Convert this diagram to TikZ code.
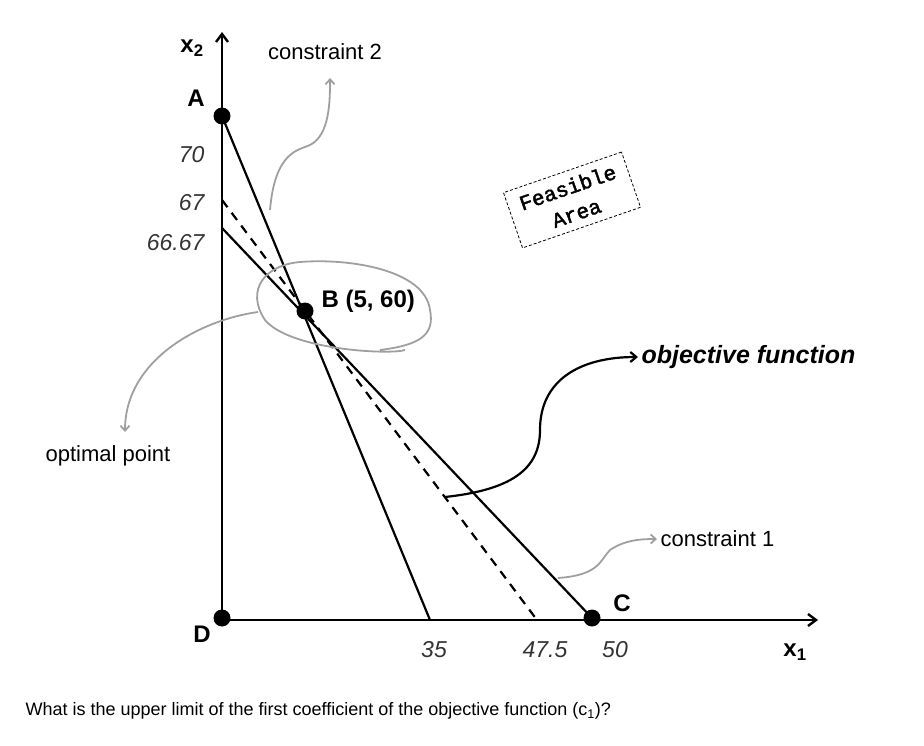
\documentclass[tikz,border=0pt]{standalone}
\usepackage{fontspec}
\setmainfont{Liberation Sans}
\newfontfamily\fatmono[FakeBold=2]{Liberation Mono}
\usetikzlibrary{arrows.meta}
\begin{document}
\begin{tikzpicture}[x=1pt,y=-1pt,
  axis/.style={line width=2.4pt,-{Straight Barb[length=8pt,width=12pt]}},
  cline/.style={line width=2.2pt},
  dot/.style={circle,fill=black,inner sep=0pt,minimum size=17pt},
  gcurve/.style={gray!75,line width=1.8pt,-{Straight Barb[length=5pt,width=9pt]}},
  ital/.style={font=\itshape\fontsize{23}{26}\selectfont,text=black!80},
  lab/.style={font=\fontsize{22}{26}\selectfont},
  blab/.style={font=\bfseries\fontsize{24}{28}\selectfont}]
\useasboundingbox (0,0) rectangle (924,746);
\coordinate (O) at (222,620);
\coordinate (ytop) at (222,32);
\coordinate (xend) at (818,620);
\draw[axis] (O) -- (ytop);
\draw[axis] (O) -- (xend);
\node[dot] (A) at (222,116) {};
\node[dot] (B) at (305,311) {};
\node[dot] (C) at (592,618) {};
\node[dot] (D) at (222,618) {};
\coordinate (p35) at (430,620);
\coordinate (p475) at (537,620);
\coordinate (p6667) at (222,228);
\coordinate (p67) at (222,200);
\draw[cline] (A.center) -- (p35);
\draw[cline] (p6667) -- (C.center);
\draw[line width=2.2pt,dash pattern=on 9pt off 7pt] (p67) -- (p475);
\node[blab] (xt) at (192,48) {x\textsubscript{2}};
\node[blab] (xr) at (795,652) {x\textsubscript{1}};
\node[blab] (Al) at (196,98) {A};
\node[blab] (Dl) at (202,634) {D};
\node[blab] (Cl) at (622,603) {C};
\node[blab,anchor=west] (Bl) at (318,301) {B (5, 60)};
\node[ital,anchor=east] (l70) at (208,155) {70};
\node[ital,anchor=east] (l67) at (208,203) {67};
\node[ital,anchor=east] (l6667) at (208,243) {66.67};
\node[ital] (l35) at (434,650) {35};
\node[ital] (l475) at (545,650) {47.5};
\node[ital] (l50) at (615,650) {50};
\node[lab] (c2) at (325,52) {constraint 2};
\node[lab] (op) at (108,456) {optimal point};
\node[lab,anchor=west] (c1) at (657,539) {constraint 1};
\node[font=\bfseries\itshape\fontsize{25}{28}\selectfont,anchor=west] (of) at (638,357) {objective function};
\node[draw,densely dashed,line width=0.8pt,rotate=19,align=center,inner xsep=12pt,inner ysep=8pt,
  font=\fatmono\fontsize{21}{27}\selectfont] (fa) at (572,200) {Feasible\\Area};
\coordinate (c2s) at (270,210);
\draw[gcurve] (c2s) .. controls (275,150) and (300,150) .. (310,145) .. controls (330,135) and (330,100) .. (330,78);
\coordinate (ops) at (258,312);
\draw[gcurve] (ops) .. controls (200,320) and (125,360) .. (125,432);
\draw[gray!75,line width=1.8pt] (405,350) .. controls (390,355) and (290,350) .. (265,320)
  .. controls (245,290) and (265,265) .. (300,262) .. controls (350,258) and (425,270) .. (430,310)
  .. controls (435,335) and (420,345) .. (380,350);
\coordinate (ofs) at (445,497);
\draw[line width=2.2pt,-{Straight Barb[length=6pt,width=10pt]}] (ofs) .. controls (510,490) and (540,470) .. (540,430)
  .. controls (540,380) and (580,357) .. (of.west);
\coordinate (c1s) at (558,578);
\draw[gcurve] (c1s) .. controls (600,575) and (600,560) .. (610,550) .. controls (625,540) and (640,539) .. (c1.west);
\node[anchor=west,font=\fontsize{18}{20}\selectfont] (q) at (22,711) {What is the upper limit of the first coefficient of the objective function (c\textsubscript{1})?};
\end{tikzpicture}
\end{document}
